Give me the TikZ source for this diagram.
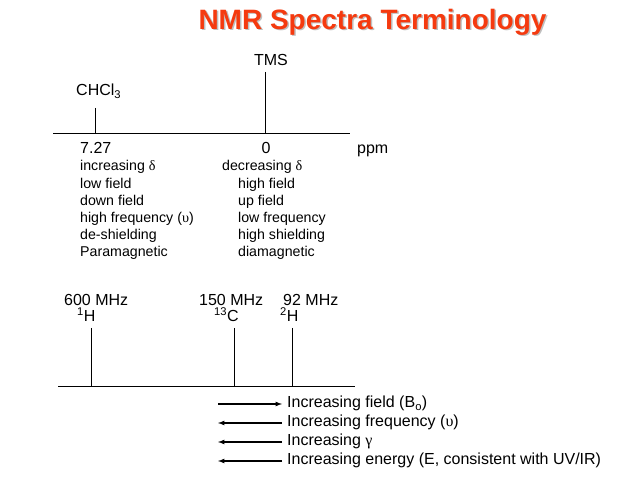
\documentclass[tikz,border=0pt]{standalone}
\usepackage{fontspec}
\setmainfont{Liberation Sans}
\newfontfamily\grk{Liberation Serif}
\begin{document}
\begin{tikzpicture}[x=1pt,y=-1pt,
  t/.style={anchor=west,inner sep=0pt,text height=11.5pt,text depth=3.5pt,font=\fontsize{16}{18}\selectfont},
  s/.style={anchor=west,inner sep=0pt,text height=10.5pt,text depth=3pt,font=\fontsize{14.2}{16}\selectfont},
  ln/.style={line width=0.8pt},
  ar/.style={line width=1.2pt,-latex}]
\useasboundingbox (0,0) rectangle (638,478);
\definecolor{tred}{HTML}{F53A0F}
\node[font=\bfseries\fontsize{28}{32}\selectfont,text=black!25] at (374,23.5) {NMR Spectra Terminology};
\node (title) [font=\bfseries\fontsize{28}{32}\selectfont,text=tred] at (372.5,22) {NMR Spectra Terminology};
% top spectrum
\node (tms) [t,anchor=center] at (271,62) {TMS};
\node (chcl) [t] at (76,92) {CHCl\textsubscript{3}};
\coordinate (a1) at (265,72); \coordinate (a2) at (265,133);
\coordinate (b1) at (95,108); \coordinate (b2) at (95,133);
\coordinate (l1) at (53,133); \coordinate (l2) at (350,133);
\draw[ln] (a1)--(a2); \draw[ln] (b1)--(b2); \draw[ln] (l1)--(l2);
\node (n1) [t] at (80,150) {7.27};
\node (n2) [t,anchor=center] at (266,150) {0};
\node (n3) [t] at (357,150) {ppm};
\node[s] at (80,167) {increasing {\grk δ}};
\node[s] at (80,185) {low field};
\node[s] at (80,202) {down field};
\node[s] at (80,219) {high frequency ({\grk υ})};
\node[s] at (80,236) {de-shielding};
\node[s] at (80,253) {Paramagnetic};
\node[s] at (222,167) {decreasing {\grk δ}};
\node[s] at (238,185) {high field};
\node[s] at (238,202) {up field};
\node[s] at (238,219) {low frequency};
\node[s] at (238,236) {high shielding};
\node[s] at (238,253) {diamagnetic};
% bottom spectrum
\node[t] at (64,302) {600 MHz};
\node[t] at (77,318) {\textsuperscript{1}H};
\node[t] at (199,302) {150 MHz};
\node[t] at (214,318) {\textsuperscript{13}C};
\node[t] at (283,302) {92 MHz};
\node[t] at (280,318) {\textsuperscript{2}H};
\coordinate (c1) at (91,328); \coordinate (c2) at (91,386);
\coordinate (d1) at (234,328); \coordinate (d2) at (234,386);
\coordinate (e1) at (292,328); \coordinate (e2) at (292,386);
\coordinate (m1) at (58,386); \coordinate (m2) at (355,386);
\draw[ln] (c1)--(c2); \draw[ln] (d1)--(d2); \draw[ln] (e1)--(e2); \draw[ln] (m1)--(m2);
% arrows
\coordinate (p1) at (218,404); \coordinate (q1) at (282,404);
\coordinate (p2) at (218,423); \coordinate (q2) at (282,423);
\coordinate (p3) at (218,442); \coordinate (q3) at (282,442);
\coordinate (p4) at (218,461); \coordinate (q4) at (282,461);
\draw[ar] (p1)--(q1); \draw[ar] (q2)--(p2); \draw[ar] (q3)--(p3); \draw[ar] (q4)--(p4);
\node[t] at (287,404) {Increasing field (B\textsubscript{o})};
\node[t] at (287,423) {Increasing frequency ({\grk υ})};
\node[t] at (287,442) {Increasing {\grk γ}};
\node[t] at (287,461) {Increasing energy (E, consistent with UV/IR)};
\end{tikzpicture}
\end{document}
